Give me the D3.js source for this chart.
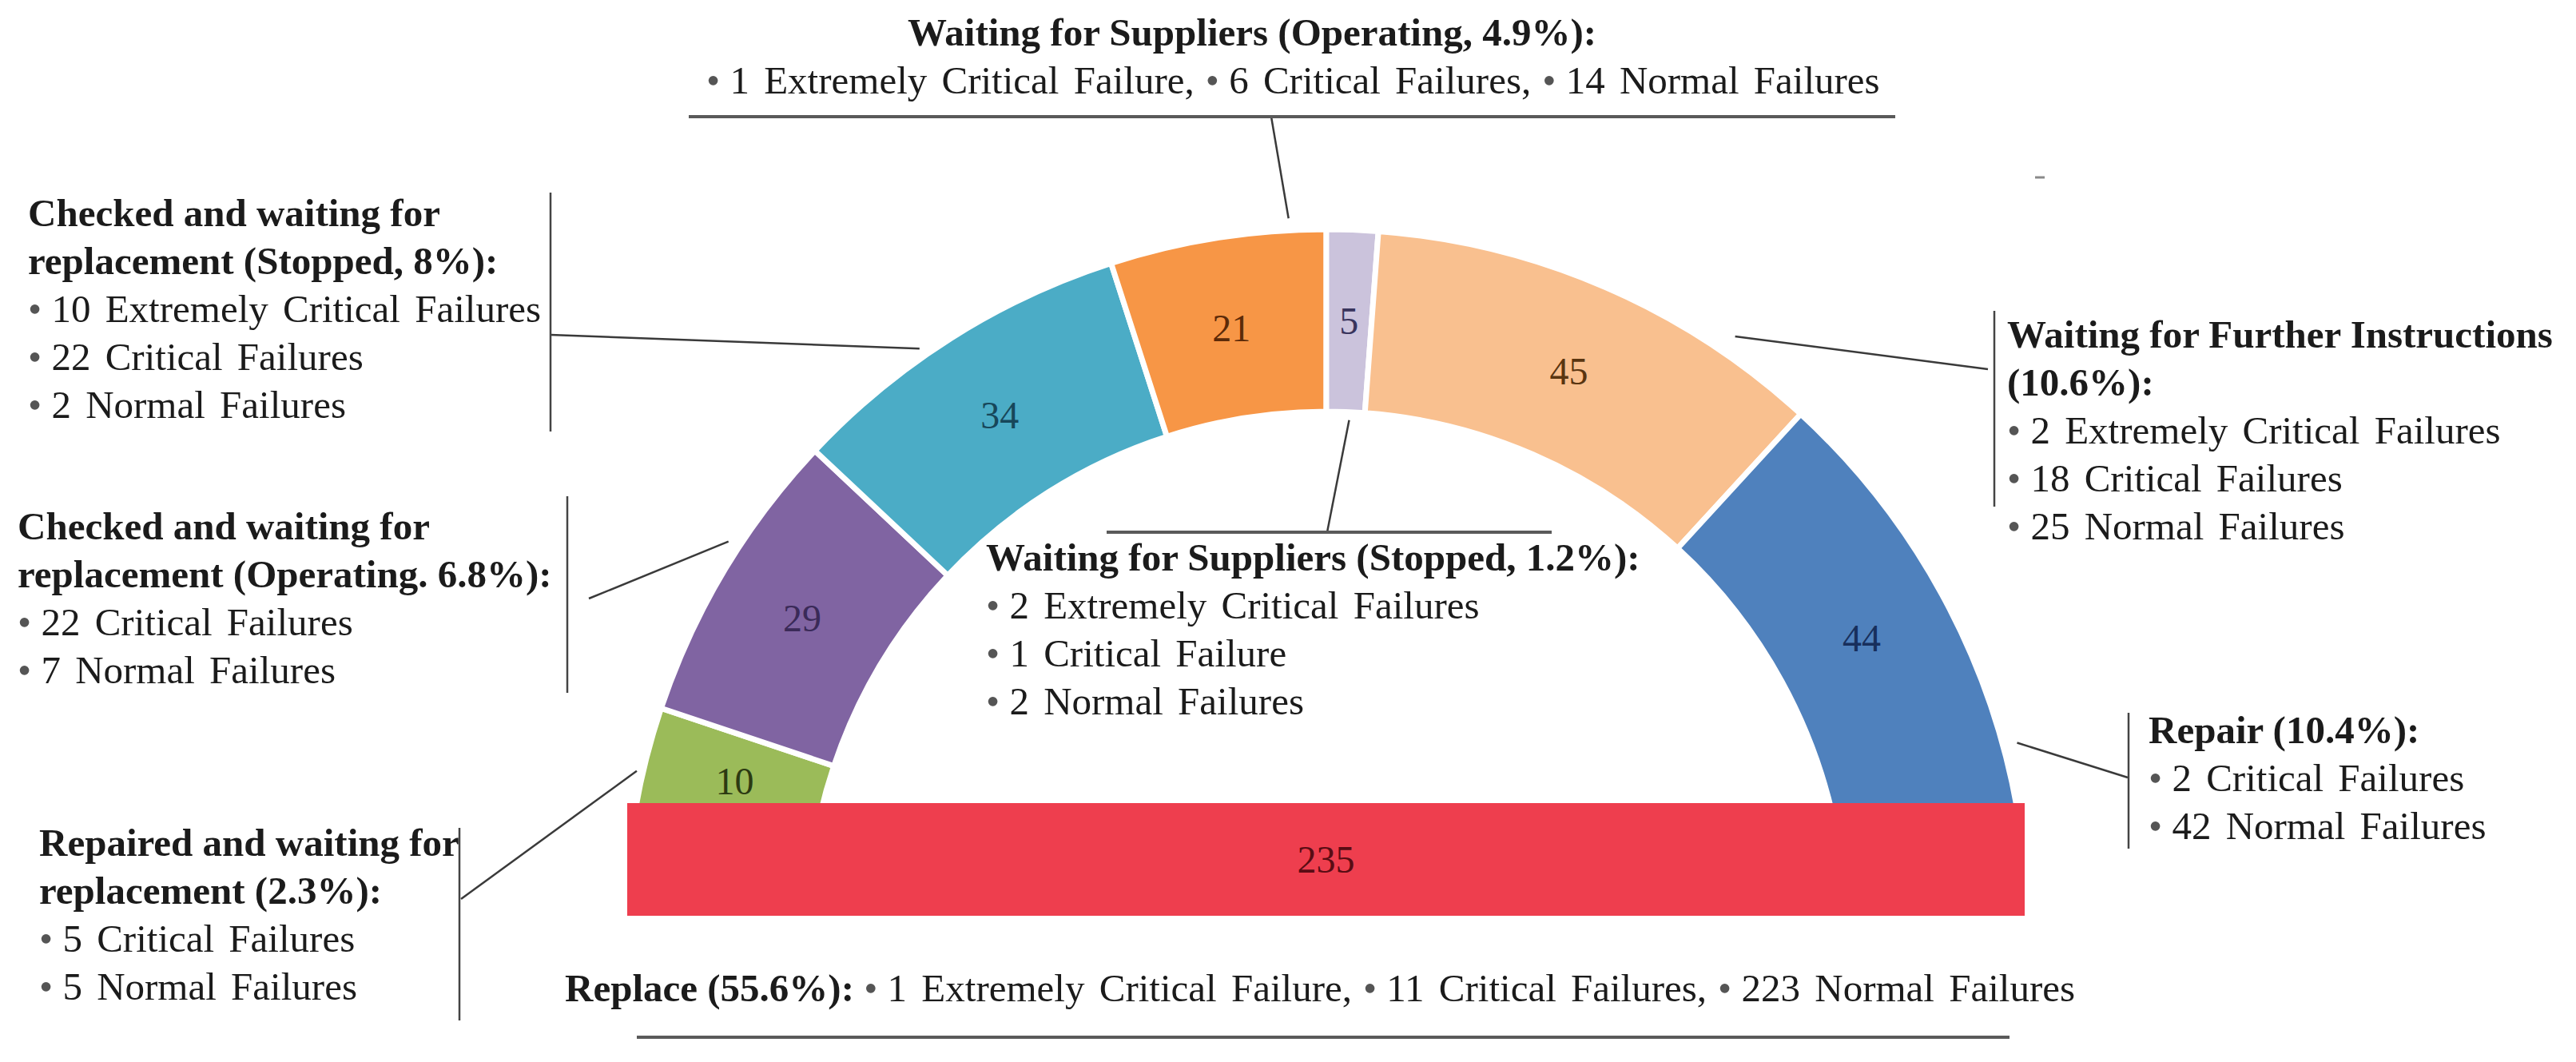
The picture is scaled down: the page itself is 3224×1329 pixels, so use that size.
<!DOCTYPE html>
<html>
<head>
<meta charset="utf-8">
<script src="https://cdnjs.cloudflare.com/ajax/libs/d3/7.8.5/d3.min.js"></script>
<style>
  body { margin: 0; background: #fff; }
  svg { display: block; }
  text { font-family: "Liberation Serif", "Times New Roman", serif; fill: #1b1b1b; }
</style>
</head>
<body>
<svg id="chart"></svg>
<script>
// slices of the half ring, left to right
const categories = [
  "Repaired and waiting for replacement",
  "Checked and waiting for replacement (Operating)",
  "Checked and waiting for replacement (Stopped)",
  "Waiting for Suppliers (Operating)",
  "Waiting for Suppliers (Stopped)",
  "Waiting for Further Instructions",
  "Repair"
];
const values = [10, 29, 34, 21, 5, 45, 44];
const extremeCounts = [0, 0, 10, 1, 2, 2, 0];
const criticalCounts = [5, 22, 22, 6, 1, 18, 2];
const normalCounts = [5, 7, 2, 14, 2, 25, 42];
const titleLines = [
  ["Repaired and waiting for", "replacement (2.3%):"],
  ["Checked and waiting for", "replacement (Operating. 6.8%):"],
  ["Checked and waiting for", "replacement (Stopped, 8%):"],
  ["Waiting for Suppliers (Operating, 4.9%):"],
  ["Waiting for Suppliers (Stopped, 1.2%):"],
  ["Waiting for Further Instructions", "(10.6%):"],
  ["Repair (10.4%):"]
];

// the bar underneath
const replaceLabel = "Replace (55.6%):";
const replaceValue = 235;
const replaceCounts = [1, 11, 223];

const colors = ["#9bbb59", "#8064a2", "#4bacc6", "#f79646", "#cbc3dc", "#f9c08f", "#4f81bd"];
const labelColors = ["#2c3a12", "#3a2a58", "#17475a", "#5c2a08", "#39345c", "#5a3510", "#172f5c"];
const replaceColor = "#ee3e4e";

const W = 3224, H = 1329;
const cx = 1660, cy = 1165, rIn = 650, rOut = 878;
const deg = Math.PI / 180;
const fs = 49, lh = 60;

const svg = d3.select("#chart").attr("width", W).attr("height", H);

const pie = d3.pie().sort(null).startAngle(-80 * deg).endAngle(80 * deg);
const arc = d3.arc().innerRadius(rIn).outerRadius(rOut);
const arcs = pie(values);

const ring = svg.append("g").attr("transform", `translate(${cx},${cy})`);
ring.selectAll("path")
  .data(arcs)
  .join("path")
  .attr("d", arc)
  .attr("fill", (d, i) => colors[i])
  .attr("stroke", "#fff")
  .attr("stroke-width", 7);

const x = d3.scaleLinear().domain([0, replaceValue]).range([785, 2534]);
const y = d3.scaleBand().domain(["Replace"]).range([1005, 1146]);

svg.append("rect")
  .attr("x", x(0))
  .attr("y", y("Replace"))
  .attr("width", x(replaceValue) - x(0))
  .attr("height", y.bandwidth())
  .attr("fill", replaceColor);

ring.selectAll("text.val")
  .data(arcs)
  .join("text")
  .attr("class", "val")
  .attr("transform", d => `translate(${arc.centroid(d)})`)
  .attr("text-anchor", "middle")
  .attr("dy", "0.35em")
  .style("font-size", "48px")
  .style("fill", (d, i) => labelColors[i])
  .text(d => d.data);

svg.append("text")
  .attr("x", (x(0) + x(replaceValue)) / 2)
  .attr("y", y("Replace") + y.bandwidth() / 2)
  .attr("dy", "0.35em")
  .attr("text-anchor", "middle")
  .style("font-size", "48px")
  .style("fill", "#5a0c14")
  .text(replaceValue);

// callout text helpers
const plural = (n, w) => `${n} ${w} Failure${n > 1 ? "s" : ""}`;
const items = (e, c, n) => {
  const out = [];
  if (e) out.push(plural(e, "Extremely Critical"));
  if (c) out.push(plural(c, "Critical"));
  if (n) out.push(plural(n, "Normal"));
  return out;
};

// where each callout sits; t = where the leader touches its slice (0..1 of the slice)
const layout = [
  { x: 49, y: 1071, bracket: [575, 1036, 1277], from: [577, 1125], t: 0.36, r: 886 },
  { x: 22, y: 675, bracket: [710, 621, 867], from: [737, 749], t: 0.59, r: 893 },
  { x: 35, y: 283, bracket: [689, 241, 540], from: [689, 419], t: 0.41, r: 889 },
  { x: 1136, y: 57, x2: 884, inline: true, rule: [862, 2372, 146], from: [1591, 146], t: 0.83, r: 893 },
  { x: 1234, y: 714, rule: [1385, 1942, 666], from: [1661, 666], t: 0.6, r: 640 },
  { x: 2512, y: 435, bracket: [2496, 389, 634], from: [2488, 462], t: 0.79, r: 903 },
  { x: 2689, y: 930, bracket: [2664, 892, 1062], from: [2663, 973], t: 0.86, r: 896 }
];

const polar = (a, r) => [cx + r * Math.sin(a), cy - r * Math.cos(a)];
const lines = svg.append("g");
const notes = svg.append("g").style("font-size", fs + "px");

const bulletLine = (sel, s, first) => {
  sel.append("tspan").style("fill", "#555").attr("dx", first ? 0 : 14).text("\u2022 ");
  sel.append("tspan").style("word-spacing", "6px").text(s);
};

layout.forEach((L, i) => {
  const d = arcs[i];
  const a = d.startAngle + L.t * (d.endAngle - d.startAngle);
  const end = polar(a, L.r);
  lines.append("line")
    .attr("x1", L.from[0]).attr("y1", L.from[1])
    .attr("x2", end[0]).attr("y2", end[1])
    .attr("stroke", "#3a3a3a").attr("stroke-width", 2.5);
  if (L.bracket) {
    lines.append("line")
      .attr("x1", L.bracket[0]).attr("x2", L.bracket[0])
      .attr("y1", L.bracket[1]).attr("y2", L.bracket[2])
      .attr("stroke", "#444").attr("stroke-width", 2.5);
  }
  if (L.rule) {
    lines.append("line")
      .attr("x1", L.rule[0]).attr("x2", L.rule[1])
      .attr("y1", L.rule[2]).attr("y2", L.rule[2])
      .attr("stroke", "#5a5a5a").attr("stroke-width", 4);
  }
  const list = items(extremeCounts[i], criticalCounts[i], normalCounts[i]);
  titleLines[i].forEach((s, k) => {
    notes.append("text").attr("x", L.x).attr("y", L.y + k * lh)
      .style("font-weight", "bold").text(s);
  });
  if (L.inline) {
    const t = notes.append("text").attr("x", L.x2).attr("y", L.y + lh);
    list.forEach((s, k) => bulletLine(t, s + (k < list.length - 1 ? "," : ""), k === 0));
  } else {
    list.forEach((s, k) => {
      const t = notes.append("text").attr("x", L.x).attr("y", L.y + (titleLines[i].length + k) * lh);
      bulletLine(t, s, true);
    });
  }
});

// replace callout under the bar
const rep = notes.append("text").attr("x", 707).attr("y", 1253);
rep.append("tspan").style("font-weight", "bold").text(replaceLabel + " ");
items(...replaceCounts).forEach((s, k, arr) => bulletLine(rep, s + (k < arr.length - 1 ? "," : ""), k === 0));
lines.append("line")
  .attr("x1", 797).attr("x2", 2515).attr("y1", 1298).attr("y2", 1298)
  .attr("stroke", "#5a5a5a").attr("stroke-width", 4);

// small stray mark top right
lines.append("line")
  .attr("x1", 2547).attr("x2", 2559).attr("y1", 222).attr("y2", 222)
  .attr("stroke", "#8a8a8a").attr("stroke-width", 3);
</script>
</body>
</html>
